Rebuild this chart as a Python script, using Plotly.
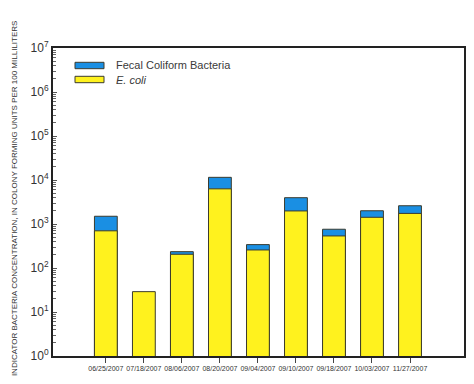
import plotly.graph_objects as go

dates = ["06/25/2007", "07/18/2007", "08/06/2007", "08/20/2007", "09/04/2007",
         "09/10/2007", "09/18/2007", "10/03/2007", "11/27/2007"]
fecal = [1500, None, 235, 11500, 340, 3960, 760, 2000, 2600]
ecoli = [700, 29, 205, 6300, 257, 1980, 535, 1420, 1740]
decades = [0, 1, 2, 3, 4, 5, 6, 7]

BLUE = "#1a8fe3"
YELLOW = "#fff21e"
EDGE = "#3b3b2e"

major_vals = [10 ** d for d in decades]
major_text = ["10<sup>%d</sup>" % d for d in decades]
minor_vals = [m * 10 ** d for d in decades[:-1] for m in range(2, 10)]

fig = go.Figure()
fig.add_trace(go.Bar(x=dates, y=fecal, width=0.6, marker=dict(color=BLUE, line=dict(color=EDGE, width=1)),
                     name="Fecal Coliform Bacteria", showlegend=False))
fig.add_trace(go.Bar(x=dates, y=ecoli, width=0.6, marker=dict(color=YELLOW, line=dict(color=EDGE, width=1)),
                     name="E. coli", showlegend=False))
# invisible helper trace so the minor-tick axis is drawn
fig.add_trace(go.Scatter(x=[dates[0]], y=[1], yaxis="y2", mode="markers",
                         marker=dict(opacity=0), hoverinfo="skip", showlegend=False))

fig.update_layout(
    width=474, height=384,
    margin=dict(l=45, r=18, t=40, b=36),
    paper_bgcolor="white", plot_bgcolor="white",
    barmode="overlay",
    font=dict(family="Liberation Sans, Arial, sans-serif", color="#333333"),
    xaxis=dict(type="category", range=[-1.39, 9.42], showgrid=False,
               showline=True, linecolor="#222222", linewidth=2, mirror=True,
               ticks="outside", ticklen=5, tickcolor="#444444", tickwidth=1,
               tickfont=dict(size=7, color="#333333")),
    yaxis=dict(type="log", range=[0, 7], showgrid=False,
               showline=True, linecolor="#222222", linewidth=2, mirror=True,
               tickmode="array", tickvals=major_vals, ticktext=major_text,
               ticks="inside", ticklen=4, tickcolor="#555555", tickwidth=1,
               tickfont=dict(size=12, color="#333333")),
    yaxis2=dict(type="log", range=[0, 7], overlaying="y", side="left", showgrid=False,
                showline=False, zeroline=False, showticklabels=False,
                tickmode="array", tickvals=minor_vals,
                ticks="inside", ticklen=3, tickcolor="#666666", tickwidth=1),
)

# y-axis title
fig.add_annotation(text="INDICATOR BACTERIA CONCENTRATION, IN COLONY FORMING UNITS PER 100 MILLILITERS",
                   xref="paper", yref="paper", x=-0.092, y=0.51, textangle=-90,
                   showarrow=False, font=dict(size=8, color="#333333"),
                   xanchor="center", yanchor="middle")

# manual legend
legend_items = [("Fecal Coliform Bacteria", BLUE, 57.5), ("<i>E. coli</i>", YELLOW, 71.5)]
for label, col, ypx in legend_items:
    yp = (348 - ypx) / 308.0
    x0 = (67 - 45) / 411.0
    x1 = (96 - 45) / 411.0
    h = 3.2 / 308.0
    fig.add_shape(type="rect", xref="paper", yref="paper", x0=x0, x1=x1, y0=yp - h, y1=yp + h,
                  fillcolor=col, line=dict(color=EDGE, width=1))
    fig.add_annotation(text=label, xref="paper", yref="paper", x=(106 - 45) / 411.0, y=yp,
                       xanchor="left", yanchor="middle", showarrow=False,
                       font=dict(size=11, color="#3a3a3a"))

fig.write_html("out.html")
